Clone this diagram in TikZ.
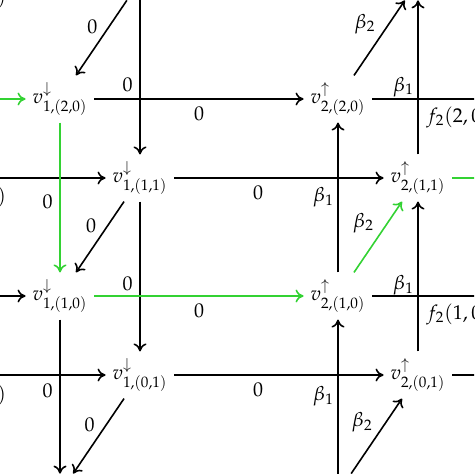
\documentclass[tikz,border=0pt]{standalone}
\usepackage{mathpazo}
\usetikzlibrary{arrows.meta}
\definecolor{grn}{RGB}{51,210,51}
\begin{document}
\begin{tikzpicture}[x=.5pt,y=-.5pt,
	vn/.style={inner sep=3.3pt},
	ghost/.style={minimum width=31pt,minimum height=19pt,inner sep=0pt},
	lb/.style={inner sep=1.6pt},
	arr/.style={-{Computer Modern Rightarrow[length=4pt,width=6.5pt]},line width=.8pt}]
	\useasboundingbox (0,0) rectangle (474,474);
	\clip (0,0) rectangle (474,474);

	% first column block
	\node[vn] (a) at (60,99) {$v^{\downarrow}_{1,(2,0)}$};
	\node[vn] (b) at (140,178) {$v^{\downarrow}_{1,(1,1)}$};
	\node[vn] (c) at (60,296) {$v^{\downarrow}_{1,(1,0)}$};
	\node[vn] (d) at (140,375) {$v^{\downarrow}_{1,(0,1)}$};
	\node[ghost] (v1t) at (140,-19) {};
	\node[ghost] (v10) at (60,493) {};

	% second column block
	\node[vn] (e) at (338,99) {$v^{\uparrow}_{2,(2,0)}$};
	\node[vn] (f) at (418,178) {$v^{\uparrow}_{2,(1,1)}$};
	\node[vn] (g) at (338,296) {$v^{\uparrow}_{2,(1,0)}$};
	\node[vn] (h) at (418,375) {$v^{\uparrow}_{2,(0,1)}$};
	\node[ghost] (v2t) at (418,-19) {};
	\node[ghost] (v20) at (338,493) {};

	\coordinate (la) at (-40,99);
	\coordinate (lb) at (-40,178);
	\coordinate (lc) at (-40,296);
	\coordinate (ld) at (-40,375);
	\coordinate (re) at (600,99);
	\coordinate (rf) at (600,178);
	\coordinate (rg) at (600,296);
	\coordinate (rh) at (600,375);

	\node[anchor=north east] (pt) at (13,-19) {$)$};
	\node[anchor=north east] (pb) at (13,180) {$)$};
	\node[anchor=north east] (pd) at (13,378) {$)$};

	\draw[arr,grn] (la) -- (a);
	\draw[arr] (lb) -- (b);
	\draw[arr] (lc) -- (c);
	\draw[arr] (ld) -- (d);

	\draw[arr] (v1t) -- node[lb,above left] {$0$} (a);
	\draw[arr] (v1t) -- node[left,pos=.55] {$0$} (b);
	\draw[arr] (a) -- node[below] {$0$} (e);
	\draw[arr,grn] (a) -- node[left,pos=.53,text=black] {$0$} (c);
	\draw[arr] (b) -- node[lb,above left] {$0$} (c);
	\draw[arr] (b) -- node[below,pos=.4] {$0$} (f);
	\draw[arr] (b) -- node[left,pos=.55] {$0$} (d);
	\draw[arr,grn] (c) -- node[below,text=black] {$0$} (g);
	\draw[arr] (c) -- node[left,pos=.46] {$0$} (v10);
	\draw[arr] (d) -- node[lb,above left] {$0$} (v10);
	\draw[arr] (d) -- node[below,pos=.4] {$0$} (h);

	\draw[arr] (e) -- node[lb,above left] {$\beta_2$} (v2t);
	\draw[arr] (f) -- node[lb,left,pos=.44] {$\beta_1$} (v2t);
	\draw[arr] (g) -- node[lb,left] {$\beta_1$} (e);
	\draw[arr,grn] (g) -- node[lb,above left,text=black] {$\beta_2$} (f);
	\draw[arr] (h) -- node[lb,left,pos=.44] {$\beta_1$} (f);
	\draw[arr] (v20) -- node[lb,left] {$\beta_1$} (g);
	\draw[arr] (v20) -- node[lb,above left] {$\beta_2$} (h);

	\draw[arr] (e) -- node[pos=.205,below right] {$f_2(2,0)$} (re);
	\draw[arr,grn] (f) -- (rf);
	\draw[arr] (g) -- node[pos=.205,below right] {$f_2(1,0)$} (rg);
	\draw[arr] (h) -- (rh);
\end{tikzpicture}
\end{document}
